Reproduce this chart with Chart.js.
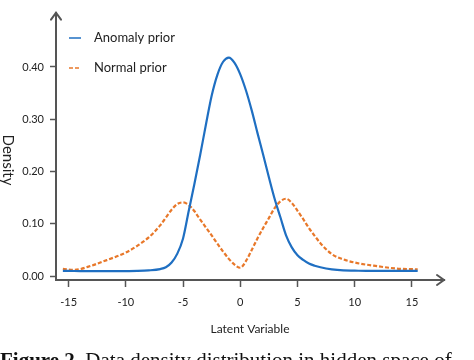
<!DOCTYPE html>
<html>
<head>
<meta charset="utf-8">
<script src="https://cdn.jsdelivr.net/npm/chart.js@4/dist/chart.umd.min.js"></script>
<style>
  html, body { margin: 0; padding: 0; background: #fff; overflow: hidden; }
  #wrap { position: relative; width: 474px; height: 360px; overflow: hidden; }
  #caption { position: absolute; left: 0; top: 348px; white-space: nowrap;
    font-family: "Liberation Serif", "DejaVu Serif", serif; font-size: 21px; color: #111; }
</style>
</head>
<body>
<div id="wrap">
  <canvas id="c" width="474" height="360"></canvas>
  <div id="caption"><b>Figure 2.</b> Data density distribution in hidden space of</div>
</div>
<script>
// ---- data ----
const xs = [-15.5, -14.5, -13, -12, -11, -10, -9, -8, -7, -6.5, -6, -5.5, -5, -4.5, -4, -3.5, -3, -2.5, -2, -1.5, -1, -0.5, 0, 0.5, 1, 1.5, 2, 2.5, 3, 3.5, 4, 4.5, 5, 5.5, 6, 6.5, 7, 8, 9, 10, 11, 12, 13, 14, 15.5];
const anomalyPrior = [0.010, 0.0098, 0.0095, 0.0095, 0.0095, 0.0097, 0.010, 0.011, 0.0135, 0.017, 0.026, 0.043, 0.072, 0.125, 0.177, 0.232, 0.290, 0.345, 0.385, 0.410, 0.418, 0.408, 0.386, 0.355, 0.317, 0.274, 0.232, 0.189, 0.148, 0.113, 0.078, 0.055, 0.040, 0.031, 0.024, 0.020, 0.017, 0.013, 0.011, 0.0105, 0.010, 0.010, 0.010, 0.010, 0.010];
const normalPrior = [0.014, 0.012, 0.020, 0.028, 0.036, 0.045, 0.058, 0.074, 0.097, 0.112, 0.127, 0.138, 0.141, 0.136, 0.124, 0.108, 0.093, 0.078, 0.062, 0.047, 0.033, 0.022, 0.016, 0.029, 0.050, 0.072, 0.092, 0.111, 0.130, 0.143, 0.148, 0.140, 0.125, 0.109, 0.092, 0.077, 0.063, 0.042, 0.032, 0.026, 0.022, 0.019, 0.016, 0.014, 0.013];
const seriesLabels = ["Anomaly prior", "Normal prior"];
const xTickValues = [-15, -10, -5, 0, 5, 10, 15];
const yTickValues = [0.00, 0.10, 0.20, 0.30, 0.40];
const xTitle = "Latent Variable";
const yTitle = "Density";

const BLUE = "#1f6fc2";
const ORANGE = "#e8782a";
const AXIS = "#555555";
const FONT = "Lato, 'Open Sans', sans-serif";

const toPts = arr => xs.map((x, i) => ({ x: x, y: arr[i] }));

const decor = {
  id: "decor",
  afterDraw(chart) {
    const ctx = chart.ctx;
    const a = chart.chartArea;
    ctx.save();
    // arrowheads
    ctx.strokeStyle = AXIS;
    ctx.lineWidth = 2;
    ctx.lineCap = "round";
    ctx.beginPath();
    ctx.moveTo(a.right - 7, a.bottom - 5);
    ctx.lineTo(a.right, a.bottom);
    ctx.lineTo(a.right - 7, a.bottom + 5);
    ctx.moveTo(a.left - 5, a.top + 7);
    ctx.lineTo(a.left, a.top);
    ctx.lineTo(a.left + 5, a.top + 7);
    ctx.stroke();
    // y title (reads top to bottom)
    ctx.fillStyle = "#222";
    ctx.font = "15px " + FONT;
    ctx.textAlign = "center";
    ctx.textBaseline = "middle";
    ctx.translate(8, 160);
    ctx.rotate(Math.PI / 2);
    ctx.fillText(yTitle, 0, 0);
    ctx.restore();
    // legend
    ctx.save();
    ctx.font = "13px " + FONT;
    ctx.textBaseline = "middle";
    ctx.textAlign = "left";
    ctx.fillStyle = "#222";
    const items = chart.data.datasets;
    const ys = [38, 68];
    items.forEach((ds, i) => {
      ctx.strokeStyle = ds.borderColor;
      ctx.lineWidth = 1.5;
      ctx.setLineDash(ds.borderDash || []);
      ctx.beginPath();
      ctx.moveTo(69, ys[i]);
      ctx.lineTo(81, ys[i]);
      ctx.stroke();
      ctx.setLineDash([]);
      ctx.fillText(ds.label, 94, ys[i]);
    });
    ctx.restore();
  }
};

new Chart(document.getElementById("c"), {
  type: "line",
  data: {
    datasets: [
      { label: seriesLabels[0], data: toPts(anomalyPrior), borderColor: BLUE, borderWidth: 2.2,
        pointRadius: 0, cubicInterpolationMode: "monotone", fill: false },
      { label: seriesLabels[1], data: toPts(normalPrior), borderColor: ORANGE, borderWidth: 2.2,
        borderDash: [4, 2], pointRadius: 0, cubicInterpolationMode: "monotone", fill: false }
    ]
  },
  options: {
    responsive: false,
    animation: false,
    layout: { padding: { left: 0, top: 5, right: 30, bottom: 20 } },
    plugins: { legend: { display: false }, tooltip: { enabled: false } },
    scales: {
      x: {
        type: "linear",
        min: -16.1, max: 17.8,
        afterFit: s => { s.height = 60; },
        afterBuildTicks: s => { s.ticks = xTickValues.map(v => ({ value: v })); },
        grid: { display: true, drawOnChartArea: false, drawTicks: true, tickLength: 7, tickColor: AXIS, tickWidth: 1.5 },
        border: { display: true, color: AXIS, width: 2 },
        ticks: { color: "#222", font: { family: FONT, size: 11 }, padding: 9, maxRotation: 0,
          callback: v => String(v) },
        title: { display: true, text: xTitle, color: "#222", font: { family: FONT, size: 12 },
          padding: { top: 0, bottom: 4 } }
      },
      y: {
        type: "linear",
        min: -0.0074, max: 0.504,
        afterFit: s => { s.width = 56; },
        afterBuildTicks: s => { s.ticks = yTickValues.map(v => ({ value: v })); },
        grid: { display: true, drawOnChartArea: false, drawTicks: true, tickLength: 6, tickColor: AXIS, tickWidth: 1.5 },
        border: { display: true, color: AXIS, width: 2 },
        ticks: { color: "#222", font: { family: FONT, size: 11 }, padding: 6,
          callback: v => Number(v).toFixed(2) }
      }
    }
  },
  plugins: [decor]
});
</script>
</body>
</html>
